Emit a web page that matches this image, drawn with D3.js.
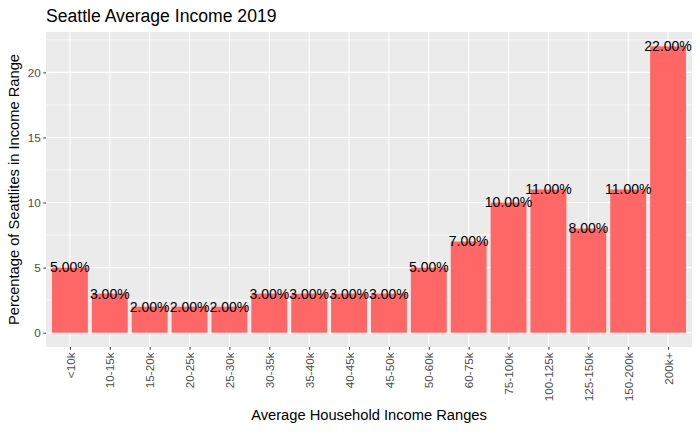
<!DOCTYPE html>
<html>
<head>
<meta charset="utf-8">
<script src="https://cdn.jsdelivr.net/npm/d3@7"></script>
<style>
body { margin: 0; background: #fff; }
text { font-family: "Liberation Sans", Arial, sans-serif; }
</style>
</head>
<body>
<svg width="700" height="432"></svg>
<script>
var categories = ["<10k", "10-15k", "15-20k", "20-25k", "25-30k", "30-35k", "35-40k", "40-45k",
    "45-50k", "50-60k", "60-75k", "75-100k", "100-125k", "125-150k", "150-200k", "200k+"];
var values = [5, 3, 2, 2, 2, 3, 3, 3, 3, 5, 7, 10, 11, 8, 11, 22];
var yTicks = [0, 5, 10, 15, 20];
var yMinor = [2.5, 7.5, 12.5, 17.5, 22.5];

var margin = {top: 32, left: 46, right: 8, bottom: 85};
var svg = d3.select("svg");
var width = 700 - margin.left - margin.right;
var height = 432 - margin.top - margin.bottom;

var g = svg.append("g")
    .attr("transform", "translate(" + margin.left + "," + margin.top + ")");

// discrete scale with ggplot style 0.6 expansion
var step = width / (categories.length - 1 + 1.2);
var scaleX = d3.scalePoint()
    .domain(categories)
    .range([0.6 * step, width - 0.6 * step]);

var maxV = d3.max(values);
var scaleY = d3.scaleLinear()
    .domain([-0.05 * maxV, maxV * 1.05])
    .range([height, 0]);

g.append("rect")
    .attr("width", width).attr("height", height)
    .attr("fill", "#ebebeb");

g.selectAll(".minor")
    .data(yMinor)
    .enter().append("line")
        .attr("x1", 0).attr("x2", width)
        .attr("y1", function(d) {return scaleY(d);})
        .attr("y2", function(d) {return scaleY(d);})
        .attr("stroke", "#fff").attr("stroke-width", 0.55);

g.selectAll(".major")
    .data(yTicks)
    .enter().append("line")
        .attr("x1", 0).attr("x2", width)
        .attr("y1", function(d) {return scaleY(d);})
        .attr("y2", function(d) {return scaleY(d);})
        .attr("stroke", "#fff").attr("stroke-width", 1.1);

g.selectAll(".vmajor")
    .data(categories)
    .enter().append("line")
        .attr("y1", 0).attr("y2", height)
        .attr("x1", function(d) {return scaleX(d);})
        .attr("x2", function(d) {return scaleX(d);})
        .attr("stroke", "#fff").attr("stroke-width", 1.1);

var barW = step * 0.9;
g.selectAll(".bar")
    .data(values)
    .enter().append("rect")
        .attr("x", function(d, i) {return scaleX(categories[i]) - barW / 2;})
        .attr("width", barW)
        .attr("y", function(d) {return scaleY(d);})
        .attr("height", function(d) {return scaleY(0) - scaleY(d);})
        .attr("fill", "#ff6666");

g.selectAll(".lbl")
    .data(values)
    .enter().append("text")
        .attr("x", function(d, i) {return scaleX(categories[i]);})
        .attr("y", function(d) {return scaleY(d);})
        .attr("dy", "0.35em")
        .attr("text-anchor", "middle")
        .style("font-size", "14px")
        .attr("fill", "#000")
        .text(function(d) {return d.toFixed(2) + "%";});

// axes
var yAxis = g.append("g")
    .call(d3.axisLeft(scaleY).tickValues(yTicks).tickSize(2.7).tickPadding(2.5));
var xAxis = g.append("g")
    .attr("transform", "translate(0," + height + ")")
    .call(d3.axisBottom(scaleX).tickSize(2.7).tickPadding(2.5));
[yAxis, xAxis].forEach(function(a) {
    a.select(".domain").remove();
    a.selectAll(".tick line").attr("stroke", "#333");
    a.selectAll(".tick text")
        .attr("fill", "#4d4d4d")
        .style("font-size", "11.7px")
        .style("font-family", "'Liberation Sans', Arial, sans-serif");
});
xAxis.selectAll(".tick text")
    .attr("transform", "rotate(-90)")
    .attr("text-anchor", "end")
    .attr("x", -5.5)
    .attr("y", 0)
    .attr("dy", "0.35em");

svg.append("text")
    .attr("x", margin.left)
    .attr("y", 22)
    .style("font-size", "17.6px")
    .text("Seattle Average Income 2019");

svg.append("text")
    .attr("x", margin.left + width / 2)
    .attr("y", 420)
    .attr("text-anchor", "middle")
    .style("font-size", "14.7px")
    .text("Average Household Income Ranges");

svg.append("text")
    .attr("transform", "translate(19," + (margin.top + height / 2) + ") rotate(-90)")
    .attr("text-anchor", "middle")
    .style("font-size", "14.7px")
    .text("Percentage of Seattlites in Income Range");
</script>
</body>
</html>
